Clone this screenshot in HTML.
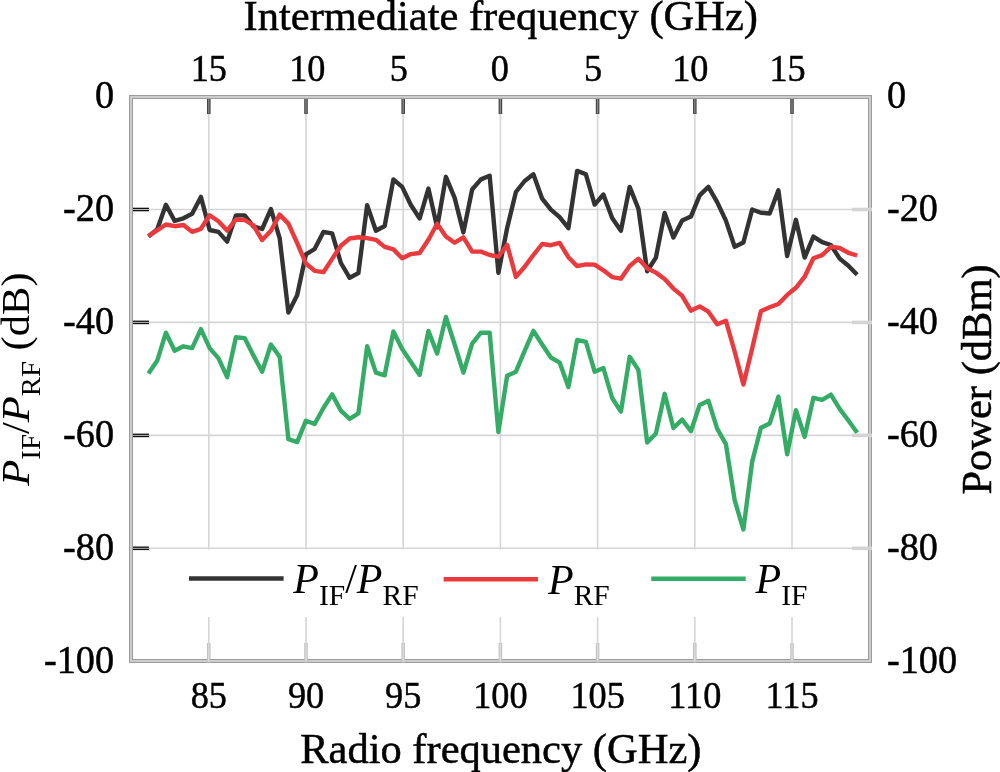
<!DOCTYPE html><html><head><meta charset="utf-8"><style>html,body{margin:0;padding:0;background:#fff;width:1000px;height:772px;overflow:hidden}svg{display:block}text{font-family:'Liberation Serif',serif;fill:#000}.b{stroke:#000;stroke-width:0.5px}</style></head><body><svg width="1000" height="772" viewBox="0 0 1000 772"><rect width="1000" height="772" fill="#fff"/><g stroke="#d5d5d5" stroke-width="1.6"><line x1="208.8" y1="99" x2="208.8" y2="659"/><line x1="306.0" y1="99" x2="306.0" y2="659"/><line x1="403.2" y1="99" x2="403.2" y2="659"/><line x1="500.4" y1="99" x2="500.4" y2="659"/><line x1="597.6" y1="99" x2="597.6" y2="659"/><line x1="694.8" y1="99" x2="694.8" y2="659"/><line x1="792.0" y1="99" x2="792.0" y2="659"/><line x1="133" y1="209.5" x2="868" y2="209.5"/><line x1="133" y1="322.4" x2="868" y2="322.4"/><line x1="133" y1="435.4" x2="868" y2="435.4"/><line x1="133" y1="548.3" x2="868" y2="548.3"/></g><rect x="133" y="549.5" width="735" height="67.5" fill="#fff"/><g fill="none" stroke-width="4.4" stroke-linejoin="round" stroke-linecap="butt"><polyline stroke="#333333" points="148.40,236.5 157.15,229.5 165.90,204.7 174.65,220.9 183.40,218.3 192.15,213.8 200.90,196.9 209.65,230.0 218.40,231.9 227.15,241.6 235.90,215.4 244.65,215.4 253.40,226.3 262.15,229.0 270.90,209.1 279.65,238.1 288.40,312.5 297.15,295.3 305.90,254.4 314.65,249.0 323.40,232.0 332.15,233.4 340.90,263.0 349.65,277.8 358.40,273.1 367.15,205.1 375.90,230.7 384.65,226.0 393.40,179.4 402.15,186.9 410.90,205.0 419.65,218.5 428.40,188.6 437.15,227.3 445.90,176.8 454.65,197.9 463.40,232.4 472.15,189.5 480.90,179.4 489.65,175.7 498.40,272.8 507.15,228.0 515.90,192.0 524.65,181.0 533.40,174.3 542.15,198.7 550.90,209.7 559.65,217.2 568.40,228.2 577.15,170.9 585.90,174.3 594.65,204.6 603.40,194.5 612.15,218.1 620.90,230.7 629.65,186.9 638.40,208.8 647.15,271.3 655.90,257.6 664.65,213.0 673.40,237.4 682.15,220.6 690.90,216.6 699.65,195.4 708.40,186.9 717.15,202.1 725.90,220.6 734.65,246.7 743.40,242.5 752.15,209.5 760.90,212.7 769.65,213.5 778.40,190.3 787.15,256.0 795.90,219.8 804.65,257.6 813.40,236.6 822.15,242.2 830.90,245.0 839.65,258.6 848.40,265.8 857.15,274.8"/><polyline stroke="#34ac66" points="148.40,373.5 157.15,360.8 165.90,332.7 174.65,350.8 183.40,346.3 192.15,348.1 200.90,329.1 209.65,348.1 218.40,358.1 227.15,377.2 235.90,337.2 244.65,338.1 253.40,355.4 262.15,371.7 270.90,344.5 279.65,356.8 288.40,439.2 297.15,442.1 305.90,420.7 314.65,424.0 323.40,408.0 332.15,394.4 340.90,410.7 349.65,418.9 358.40,413.4 367.15,346.3 375.90,372.6 384.65,375.3 393.40,331.4 402.15,349.0 410.90,362.0 419.65,375.0 428.40,330.9 437.15,353.6 445.90,316.9 454.65,344.5 463.40,372.6 472.15,343.6 480.90,332.7 489.65,332.7 498.40,432.0 507.15,375.7 515.90,371.7 524.65,350.8 533.40,330.9 542.15,344.5 550.90,357.5 559.65,362.6 568.40,387.1 577.15,339.9 585.90,341.8 594.65,371.7 603.40,368.1 612.15,398.0 620.90,411.6 629.65,356.8 638.40,369.9 647.15,442.5 655.90,433.4 664.65,393.8 673.40,428.0 682.15,419.6 690.90,431.2 699.65,404.9 708.40,400.7 717.15,428.7 725.90,444.2 734.65,500.2 743.40,529.5 752.15,461.9 760.90,427.8 769.65,423.6 778.40,396.6 787.15,454.2 795.90,410.2 804.65,436.7 813.40,397.8 822.15,399.8 830.90,394.6 839.65,408.9 848.40,420.5 857.15,432.8"/><polyline stroke="#ea3a3d" points="148.40,236.0 157.15,230.3 165.90,224.5 174.65,226.2 183.40,225.0 192.15,231.8 200.90,228.8 209.65,215.3 218.40,221.3 227.15,230.6 235.90,219.5 244.65,220.0 253.40,225.4 262.15,240.0 270.90,230.8 279.65,214.6 288.40,223.6 297.15,243.0 305.90,263.5 314.65,270.8 323.40,272.2 332.15,258.9 340.90,245.7 349.65,238.5 358.40,237.3 367.15,238.1 375.90,239.8 384.65,246.9 393.40,249.4 402.15,258.3 410.90,254.1 419.65,253.0 428.40,239.8 437.15,223.8 445.90,236.5 454.65,242.7 463.40,237.3 472.15,251.6 480.90,251.6 489.65,255.0 498.40,256.7 507.15,244.9 515.90,276.9 524.65,266.8 533.40,255.0 542.15,244.0 550.90,245.2 559.65,242.9 568.40,257.2 577.15,266.1 585.90,264.4 594.65,264.6 603.40,270.3 612.15,277.1 620.90,278.7 629.65,266.0 638.40,258.8 647.15,268.3 655.90,272.6 664.65,279.0 673.40,288.6 682.15,295.8 690.90,310.7 699.65,306.4 708.40,311.7 717.15,324.3 725.90,320.8 734.65,351.5 743.40,384.5 752.15,348.5 760.90,311.2 769.65,307.2 778.40,304.0 787.15,294.9 795.90,287.8 804.65,276.7 813.40,258.3 822.15,255.1 830.90,246.8 839.65,248.0 848.40,252.8 857.15,255.5"/></g><g stroke-width="4.4"><line x1="189" y1="578.5" x2="283.6" y2="578.5" stroke="#333"/><line x1="443.6" y1="579.2" x2="538" y2="579.2" stroke="#ea3a3d"/><line x1="651.3" y1="578.8" x2="745.7" y2="578.8" stroke="#34ac66"/></g><text transform="translate(293.3,593.4) scale(1.0,1)" font-size="42"><tspan font-style="italic">P</tspan><tspan font-size="29.5" dy="11.6">IF</tspan><tspan dy="-11.6">/</tspan><tspan font-style="italic">P</tspan><tspan font-size="29.5" dy="11.6">RF</tspan></text><text transform="translate(548,593.6) scale(1.0,1)" font-size="42"><tspan font-style="italic">P</tspan><tspan font-size="29.5" dy="11.6">RF</tspan></text><text transform="translate(755.5,593.4) scale(1.0,1)" font-size="42"><tspan font-style="italic">P</tspan><tspan font-size="29.5" dy="11.6">IF</tspan></text><line x1="208.8" y1="98.5" x2="208.8" y2="114" stroke="#454545" stroke-width="3.6"/><line x1="208.8" y1="98.5" x2="208.8" y2="113.5" stroke="#8a8a8a" stroke-width="1.2"/><line x1="306.0" y1="98.5" x2="306.0" y2="114" stroke="#454545" stroke-width="3.6"/><line x1="306.0" y1="98.5" x2="306.0" y2="113.5" stroke="#8a8a8a" stroke-width="1.2"/><line x1="403.2" y1="98.5" x2="403.2" y2="114" stroke="#454545" stroke-width="3.6"/><line x1="403.2" y1="98.5" x2="403.2" y2="113.5" stroke="#8a8a8a" stroke-width="1.2"/><line x1="500.4" y1="98.5" x2="500.4" y2="114" stroke="#454545" stroke-width="3.6"/><line x1="500.4" y1="98.5" x2="500.4" y2="113.5" stroke="#8a8a8a" stroke-width="1.2"/><line x1="597.6" y1="98.5" x2="597.6" y2="114" stroke="#454545" stroke-width="3.6"/><line x1="597.6" y1="98.5" x2="597.6" y2="113.5" stroke="#8a8a8a" stroke-width="1.2"/><line x1="694.8" y1="98.5" x2="694.8" y2="114" stroke="#454545" stroke-width="3.6"/><line x1="694.8" y1="98.5" x2="694.8" y2="113.5" stroke="#8a8a8a" stroke-width="1.2"/><line x1="792.0" y1="98.5" x2="792.0" y2="114" stroke="#454545" stroke-width="3.6"/><line x1="792.0" y1="98.5" x2="792.0" y2="113.5" stroke="#8a8a8a" stroke-width="1.2"/><line x1="133" y1="209.5" x2="149" y2="209.5" stroke="#111" stroke-width="3.6"/><line x1="133" y1="209.5" x2="149" y2="209.5" stroke="#bbb" stroke-width="1.0"/><line x1="133" y1="322.4" x2="149" y2="322.4" stroke="#111" stroke-width="3.6"/><line x1="133" y1="322.4" x2="149" y2="322.4" stroke="#bbb" stroke-width="1.0"/><line x1="133" y1="435.4" x2="149" y2="435.4" stroke="#111" stroke-width="3.6"/><line x1="133" y1="435.4" x2="149" y2="435.4" stroke="#bbb" stroke-width="1.0"/><line x1="133" y1="548.3" x2="149" y2="548.3" stroke="#111" stroke-width="3.6"/><line x1="133" y1="548.3" x2="149" y2="548.3" stroke="#bbb" stroke-width="1.0"/><rect x="131" y="97" width="739" height="564" fill="none" stroke="#9c9c9c" stroke-width="4"/><rect x="131" y="97" width="739" height="564" fill="none" stroke="#d2d2d2" stroke-width="1.8"/><line x1="852" y1="209.5" x2="872" y2="209.5" stroke="#d4d4d4" stroke-width="3.6"/><line x1="852" y1="322.4" x2="872" y2="322.4" stroke="#d4d4d4" stroke-width="3.6"/><line x1="852" y1="435.4" x2="872" y2="435.4" stroke="#d4d4d4" stroke-width="3.6"/><line x1="852" y1="548.3" x2="872" y2="548.3" stroke="#d4d4d4" stroke-width="3.6"/><line x1="208.8" y1="643" x2="208.8" y2="662.5" stroke="#c2c2c2" stroke-width="3.6"/><line x1="208.8" y1="643.5" x2="208.8" y2="662" stroke="#dcdcdc" stroke-width="1.4"/><line x1="306.0" y1="643" x2="306.0" y2="662.5" stroke="#c2c2c2" stroke-width="3.6"/><line x1="306.0" y1="643.5" x2="306.0" y2="662" stroke="#dcdcdc" stroke-width="1.4"/><line x1="403.2" y1="643" x2="403.2" y2="662.5" stroke="#c2c2c2" stroke-width="3.6"/><line x1="403.2" y1="643.5" x2="403.2" y2="662" stroke="#dcdcdc" stroke-width="1.4"/><line x1="500.4" y1="643" x2="500.4" y2="662.5" stroke="#c2c2c2" stroke-width="3.6"/><line x1="500.4" y1="643.5" x2="500.4" y2="662" stroke="#dcdcdc" stroke-width="1.4"/><line x1="597.6" y1="643" x2="597.6" y2="662.5" stroke="#c2c2c2" stroke-width="3.6"/><line x1="597.6" y1="643.5" x2="597.6" y2="662" stroke="#dcdcdc" stroke-width="1.4"/><line x1="694.8" y1="643" x2="694.8" y2="662.5" stroke="#c2c2c2" stroke-width="3.6"/><line x1="694.8" y1="643.5" x2="694.8" y2="662" stroke="#dcdcdc" stroke-width="1.4"/><line x1="792.0" y1="643" x2="792.0" y2="662.5" stroke="#c2c2c2" stroke-width="3.6"/><line x1="792.0" y1="643.5" x2="792.0" y2="662" stroke="#dcdcdc" stroke-width="1.4"/><text transform="translate(114,108.4) scale(0.98,1)" font-size="39" class="b" text-anchor="end">0</text><text transform="translate(887,108.4) scale(0.98,1)" font-size="39" class="b">0</text><text transform="translate(114,221.3) scale(0.98,1)" font-size="39" class="b" text-anchor="end">-20</text><text transform="translate(887,221.3) scale(0.98,1)" font-size="39" class="b">-20</text><text transform="translate(114,334.2) scale(0.98,1)" font-size="39" class="b" text-anchor="end">-40</text><text transform="translate(887,334.2) scale(0.98,1)" font-size="39" class="b">-40</text><text transform="translate(114,447.2) scale(0.98,1)" font-size="39" class="b" text-anchor="end">-60</text><text transform="translate(887,447.2) scale(0.98,1)" font-size="39" class="b">-60</text><text transform="translate(114,560.1) scale(0.98,1)" font-size="39" class="b" text-anchor="end">-80</text><text transform="translate(887,560.1) scale(0.98,1)" font-size="39" class="b">-80</text><text transform="translate(114,673.0) scale(0.98,1)" font-size="39" class="b" text-anchor="end">-100</text><text transform="translate(887,673.0) scale(0.98,1)" font-size="39" class="b">-100</text><text transform="translate(208.8,708) scale(0.93,1)" font-size="39" class="b" text-anchor="middle">85</text><text transform="translate(306.0,708) scale(0.93,1)" font-size="39" class="b" text-anchor="middle">90</text><text transform="translate(403.2,708) scale(0.93,1)" font-size="39" class="b" text-anchor="middle">95</text><text transform="translate(500.4,708) scale(0.93,1)" font-size="39" class="b" text-anchor="middle">100</text><text transform="translate(597.6,708) scale(0.93,1)" font-size="39" class="b" text-anchor="middle">105</text><text transform="translate(694.8,708) scale(0.93,1)" font-size="39" class="b" text-anchor="middle">110</text><text transform="translate(792.0,708) scale(0.93,1)" font-size="39" class="b" text-anchor="middle">115</text><text transform="translate(208.8,81) scale(0.93,1)" font-size="39" class="b" text-anchor="middle">15</text><text transform="translate(307.3,81) scale(0.93,1)" font-size="39" class="b" text-anchor="middle">10</text><text transform="translate(398.7,81) scale(0.93,1)" font-size="39" class="b" text-anchor="middle">5</text><text transform="translate(499.9,81) scale(0.93,1)" font-size="39" class="b" text-anchor="middle">0</text><text transform="translate(593.0,81) scale(0.93,1)" font-size="39" class="b" text-anchor="middle">5</text><text transform="translate(690.3,81) scale(0.93,1)" font-size="39" class="b" text-anchor="middle">10</text><text transform="translate(787.6,81) scale(0.93,1)" font-size="39" class="b" text-anchor="middle">15</text><text x="500.8" y="762.6" font-size="42.5" class="b" text-anchor="middle">Radio frequency (GHz)</text><text x="500.8" y="29.8" font-size="42.5" class="b" text-anchor="middle">Intermediate frequency (GHz)</text><text transform="translate(29.3,379.0) rotate(-90) scale(1.065,1)" font-size="40" text-anchor="middle"><tspan font-style="italic">P</tspan><tspan font-size="27" dy="11">IF</tspan><tspan dy="-11">/</tspan><tspan font-style="italic">P</tspan><tspan font-size="27" dy="11">RF</tspan><tspan dy="-11"> (dB)</tspan></text><text transform="translate(991.3,379.5) rotate(-90)" font-size="42.5" class="b" text-anchor="middle">Power (dBm)</text></svg></body></html>
